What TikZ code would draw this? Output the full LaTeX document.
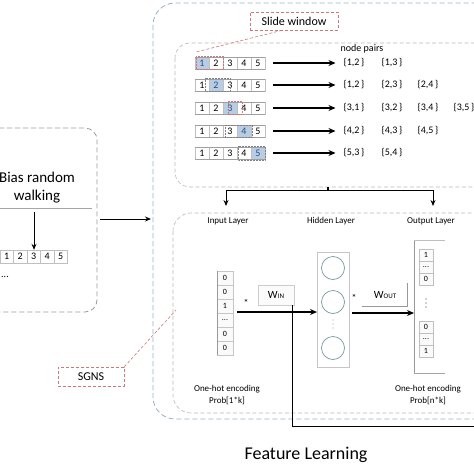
\documentclass[tikz,border=0pt]{standalone}
\usepackage{fontspec}
\setmainfont{Carlito}
\usetikzlibrary{arrows.meta}
\definecolor{outerc}{RGB}{150,175,195}
\definecolor{redc}{RGB}{205,120,120}
\definecolor{hl}{RGB}{184,204,228}
\definecolor{hltext}{RGB}{40,80,130}
\definecolor{circc}{RGB}{120,150,160}
\newcommand{\fs}[1]{\fontsize{#1}{#1}\selectfont}
\begin{document}
\begin{tikzpicture}[x=1pt,y=-1pt,
  outerbox/.style={draw=outerc, line width=0.8pt, dash pattern=on 5pt off 3pt},
  leftbox/.style={draw=gray!80, line width=0.8pt, dash pattern=on 5pt off 3pt},
  innerbox/.style={draw=gray!55, line width=0.6pt, dash pattern=on 4pt off 2.5pt},
  redbox/.style={draw=redc, line width=0.6pt, dash pattern=on 3pt off 2pt},
  redline/.style={draw=redc, line width=0.6pt, dash pattern=on 3pt off 2pt},
  winbox/.style={densely dotted, line width=0.5pt},
  cell/.style={draw=gray!50, line width=0.4pt, minimum width=14pt, minimum height=12pt, inner sep=0pt, font=\fs{10}},
  hcell/.style={cell, fill=hl, text=hltext},
  vcell/.style={draw=gray!45, fill=gray!4, line width=0.4pt, minimum width=16pt, minimum height=14pt, inner sep=0pt, font=\fs{8}},
  ocell/.style={draw=gray!50, fill=gray!4, line width=0.4pt, minimum width=14pt, minimum height=12pt, inner sep=0pt, font=\fs{8}},
  pair/.style={font=\fs{10}, inner sep=0pt},
  lab/.style={font=\fs{9}, inner sep=0pt},
  arr/.style={-{Stealth[length=7pt,width=6pt]}, line width=1.2pt},
  sarr/.style={-{Stealth[length=6pt,width=5pt]}, line width=1pt},
  circ/.style={circle, draw=circc, line width=0.7pt, minimum size=23pt, inner sep=0pt}]
\useasboundingbox (0,0) rectangle (474,474);
\clip (0,0) rectangle (474,474);

% ---------- left box ----------
\draw[leftbox, rounded corners=12pt] (-30,128) rectangle (97,312);
\node[font=\fs{15}, align=center, inner sep=0pt] (bias) at (37,188) {Bias random\\[3pt]walking};
\draw[gray!70, line width=0.8pt] (0,208) -- (92,208);
\coordinate (bdown1) at (34,212);
\foreach \c/\x in {1/6.75,2/20.25,3/33.75,4/47.25,5/60.75}
  \node[cell, minimum width=13.5pt, minimum height=13pt] (l\c) at (\x,256.5) {\c};
\draw[sarr] (bdown1) -- (l3.north -| bdown1);
\node[font=\fs{10}, inner sep=0pt] (ldots) at (5,277) {...};
\coordinate (la1) at (100,219);
\coordinate (la2) at (151,219);
\draw[sarr] (la1) -- (la2);

% ---------- outer box ----------
\draw[outerbox, rounded corners=22pt] (153,3) rectangle (520,419);
\node[font=\fs{18}, inner sep=0pt] (fl) at (306,455) {Feature Learning};

% ---------- slide window ----------
\draw[innerbox, rounded corners=15pt] (175,43) rectangle (520,187);
\node[redbox, minimum width=88pt, minimum height=18pt, font=\fs{12}, inner sep=0pt] (slide) at (294,21) {Slide window};
\coordinate (swend) at (196,52);
\draw[redline] ([xshift=-12pt]slide.south) -- (swend);

\foreach \r/\y in {1/63,2/85,3/108,4/131,5/153} {
  \foreach \c in {1,2,3,4,5}
    \node[cell] (c\r-\c) at (188+14*\c,\y) {\c};
  \node[hcell] at (c\r-\r) {\r};
  \draw[gray!75, line width=0.8pt] (195,\y-6) -- (265,\y-6);
  \draw[gray!75, line width=0.8pt] (195,\y+6) -- (265,\y+6);
}
\draw[winbox, redc] (196,56) rectangle (223,69);
\draw[winbox, gray] (205,78) rectangle (230,91);
\draw[winbox, redc] (228,101) rectangle (242,114);
\draw[winbox, gray] (225,125) rectangle (252,137);
\draw[winbox, gray] (238,146) rectangle (265,160);

\node[pair] (np) at (362,49) {node pairs};
\node[pair] (p1-1) at (354,63) {\{1,2\,\}};
\node[pair] (p1-2) at (392,63) {\{1,3\,\}};
\node[pair] (p2-1) at (354,85) {\{1,2\,\}};
\node[pair] (p2-2) at (392,85) {\{2,3\,\}};
\node[pair] (p2-3) at (428,85) {\{2,4\,\}};
\node[pair] (p3-1) at (354,108) {\{3,1\,\}};
\node[pair] (p3-2) at (392,108) {\{3,2\,\}};
\node[pair] (p3-3) at (428,108) {\{3,4\,\}};
\node[pair] (p3-4) at (464,108) {\{3,5\,\}};
\node[pair] (p4-1) at (354,131) {\{4,2\,\}};
\node[pair] (p4-2) at (392,131) {\{4,3\,\}};
\node[pair] (p4-3) at (428,131) {\{4,5\,\}};
\node[pair] (p5-1) at (354,153) {\{5,3\,\}};
\node[pair] (p5-2) at (392,153) {\{5,4\,\}};
\foreach \r in {1,2,3,4,5}
  \draw[arr] ([xshift=8pt]c\r-5.east) -- ([xshift=-8pt]p\r-1.west);

% ---------- split arrows ----------
\coordinate (split) at (328,187);
\coordinate (sp2) at (328,190);
\coordinate (inarr) at (226,206);
\coordinate (outarr) at (433,206);
\draw[line width=1.1pt] (split) -- (sp2);
\draw[sarr] (sp2) -| (inarr);
\draw[sarr] (sp2) -| (outarr);

% ---------- neural network ----------
\draw[innerbox, rounded corners=18pt] (173,213) rectangle (520,413);
\node[lab] (inl) at (228,221) {Input Layer};
\node[lab] (hidl) at (331,221) {Hidden Layer};
\node[lab] (outl) at (431,221) {Output Layer};

% input vector
\node[vcell] (iv1) at (225,278) {0};
\node[vcell] (iv2) at (225,292) {0};
\node[vcell] (iv3) at (225,306) {1};
\node[vcell] (iv4) at (225,320) {...};
\node[vcell] (iv5) at (225,334) {0};
\node[vcell] (iv6) at (225,348) {0};
\draw[gray!80, line width=0.8pt] (217,271) -- (217,355);
\node[font=\fs{10}, inner sep=0pt] (m1) at (246,303) {*};
\node[draw=gray!40, fill=gray!3, minimum width=36pt, minimum height=20pt, inner sep=0pt] (win) at (276,295) {\fs{11}W\fs{7}IN};
\coordinate (fr) at (490,426);
\draw[line width=1pt] ([xshift=-1.5pt]win.south east) |- (fr);

% hidden
\coordinate (hidnw) at (317,252);
\coordinate (hidse) at (349,367);
\draw[gray!45, line width=0.5pt] (hidnw) rectangle (hidse);
\node[circ] (h1) at (333,268) {};
\node[circ] (h2) at (333,302) {};
\node[circ] (h3) at (333,348) {};
\foreach \d in {320,324,328}
  \fill[gray!70] (333,\d) circle (0.6pt);
\coordinate (ivout) at (237,312);
\draw[arr] (ivout) -- (ivout -| hidnw);
\node[font=\fs{10}, inner sep=0pt] (m2) at (354,298) {*};
\node[inner sep=0pt] (wout) at (385,295) {\fs{11}W\fs{7}OUT};
\draw[gray!80, line width=0.8pt] (362,306) -- (407,306) -- (407,283);

% output
\coordinate (obnw) at (414,240);
\coordinate (obne) at (445,240);
\coordinate (obsw) at (414,373);
\coordinate (obse) at (445,373);
\draw[gray!80, line width=0.9pt] (obnw) -- (obsw);
\draw[gray!50, line width=0.6pt] (obnw) -- (obne);
\draw[gray!70, line width=0.8pt] (obsw) -- (obse);
\coordinate (hidout) at (352,313);
\draw[arr] (hidout) -- (hidout -| obnw);
\node[ocell] (o1) at (426,255) {1};
\node[ocell] (o2) at (426,267) {...};
\node[ocell] (o3) at (426,279) {0};
\foreach \d in {299,303,307}
  \fill[black!80] (426,\d) circle (0.7pt);
\node[ocell] (o4) at (426,327) {0};
\node[ocell] (o5) at (426,339) {...};
\node[ocell] (o6) at (426,351) {1};

\node[lab, align=center] (enc1) at (227,395) {One-hot encoding\\[3pt]Prob[1*k]};
\node[lab, align=center] (enc2) at (428,395) {One-hot encoding\\[3pt]Prob[n*k]};

% SGNS
\node[redbox, minimum width=66pt, minimum height=19pt, font=\fs{12}, inner sep=0pt] (sgns) at (91,376.5) {SGNS};
\coordinate (sgend) at (176,310);
\draw[redline] (sgns.north east) -- (sgend);
\end{tikzpicture}
\end{document}
